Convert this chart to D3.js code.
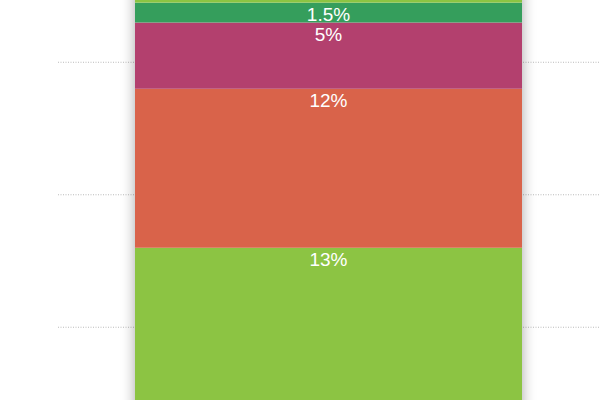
<!DOCTYPE html><html><head><meta charset="utf-8"><script src="https://cdn.jsdelivr.net/npm/d3@7"></script>
<style>body{margin:0;background:#fff}</style></head><body><svg width="600" height="400"></svg>
<script>
const segments=["A","B","C","D","E"];
const values=[13,12,5,1.5,3];
const labels=["13%","12%","5%","1.5%",""];
const colors=["#8cc443","#d9634a","#b3406e","#359e5c","#8cc443"];
const gridValues=[7,17,27];
const svg=d3.select("svg");
const y=d3.scaleLinear().domain([0,30.19]).range([420,20]);
const x=d3.scaleBand().domain(["bar"]).range([135,522]).padding(0);
const defs=svg.append("defs");
const f=defs.append("filter").attr("id","sh").attr("x","-20%").attr("y","-20%").attr("width","140%").attr("height","140%");
f.append("feDropShadow").attr("dx",0).attr("dy",0).attr("stdDeviation",7).attr("flood-color","#000").attr("flood-opacity",0.35);
svg.selectAll("line.g").data(gridValues).enter().append("line")
 .attr("x1",58).attr("x2",600).attr("y1",d=>y(d)).attr("y2",d=>y(d))
 .attr("stroke","#aaa").attr("stroke-width",0.8).attr("stroke-dasharray","1,1.5");
let cum=0;const st=values.map(v=>{const s={y0:cum,y1:cum+v};cum+=v;return s;});
const g=svg.append("g");
g.append("rect").attr("x",x("bar")).attr("width",x.bandwidth()).attr("y",y(cum)).attr("height",y(0)-y(cum)).attr("fill","#fff").attr("filter","url(#sh)");
g.selectAll("rect.s").data(st).enter().append("rect").attr("class","s")
 .attr("x",x("bar")).attr("width",x.bandwidth()).attr("y",d=>y(d.y1)).attr("height",d=>y(d.y0)-y(d.y1)).attr("fill",(d,i)=>colors[i]);
g.selectAll("text").data(st).enter().append("text")
 .attr("x",x("bar")+x.bandwidth()/2).attr("y",d=>y(d.y1)+18).attr("text-anchor","middle")
 .attr("fill","#fff").attr("font-family","Liberation Sans, Arial, sans-serif").attr("font-size",19).attr("font-weight",300)
 .text((d,i)=>labels[i]);
</script></body></html>
